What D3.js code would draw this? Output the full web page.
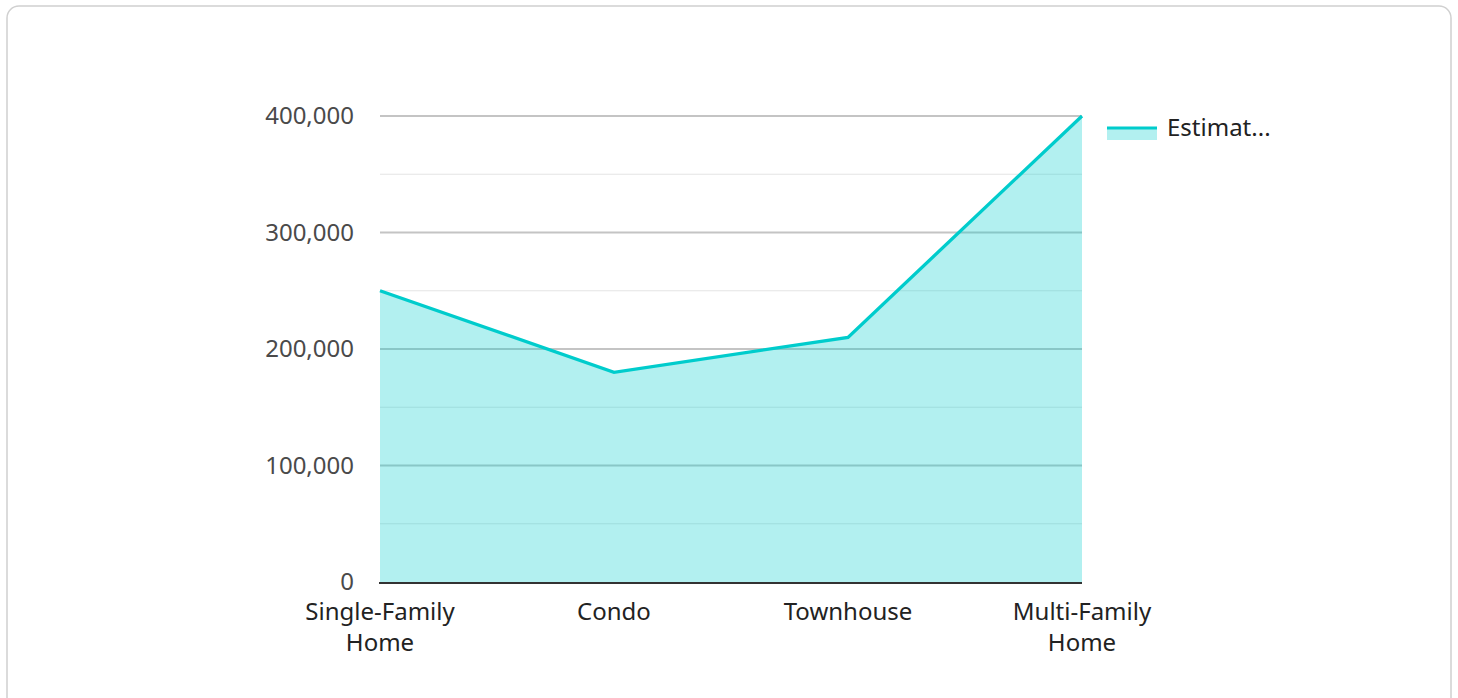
<!DOCTYPE html>
<html>
<head>
<meta charset="utf-8">
<script src="https://cdn.jsdelivr.net/npm/d3@7"></script>
<style>
  html, body { margin: 0; padding: 0; background: #fff; }
  #idMyCanvas { width: 1458px; height: 698px; }
</style>
</head>
<body>
<div id="idMyCanvas"></div>
<script>
let categories = [["Single-Family", "Home"], ["Condo"], ["Townhouse"], ["Multi-Family", "Home"]];
let series_name = "Estimated Value";
let series_values = [250000, 180000, 210000, 400000];
let y_ticks = [0, 100000, 200000, 300000, 400000];
let y_minor = [50000, 150000, 250000, 350000];

let canvas_xn = 1458;
let canvas_yn = 698;

let svg_obj = d3.select("#idMyCanvas")
                .append("svg")
                  .attr("width", canvas_xn)
                  .attr("height", canvas_yn)
                  .attr("xmlns", "http://www.w3.org/2000/svg");

let font_family = "'Noto Sans', 'Open Sans', sans-serif";
let font_size = 24; // px
let line_color = "#00cccc";
let fill_color = "rgba(0, 204, 204, 0.30)";

// Card
// -------------------
svg_obj.append("rect")
   .attr("x", 7).attr("y", 6)
   .attr("width", 1444).attr("height", 720)
   .attr("rx", 12).attr("ry", 12)
   .attr("fill", "#fff")
   .attr("stroke", "#d0d0d0")
   .attr("stroke-width", 1.5);
// -------------------

// Scales
// -------------------
let plot_x0 = 380, plot_x1 = 1082;
let plot_y0 = 116, plot_y1 = 582;

let x_scale = d3.scalePoint()
   .domain(d3.range(categories.length))
   .range([plot_x0, plot_x1]);

let y_scale = d3.scaleLinear()
   .domain([0, 400000])
   .range([plot_y1, plot_y0]);
// -------------------

// Gridlines
// -------------------
svg_obj.append("g").selectAll("line.minor")
   .data(y_minor).join("line")
   .attr("x1", plot_x0).attr("x2", plot_x1)
   .attr("y1", d => y_scale(d)).attr("y2", d => y_scale(d))
   .attr("stroke", "#e4e4e4").attr("stroke-width", 1.2);

svg_obj.append("g").selectAll("line.major")
   .data(y_ticks.filter(d => d > 0)).join("line")
   .attr("x1", plot_x0).attr("x2", plot_x1)
   .attr("y1", d => y_scale(d)).attr("y2", d => y_scale(d))
   .attr("stroke", "#c4c4c4").attr("stroke-width", 1.8);
// -------------------

// Area + line
// -------------------
let area_gen = d3.area()
   .x((d, i) => x_scale(i))
   .y0(y_scale(0))
   .y1(d => y_scale(d));

let line_gen = d3.line()
   .x((d, i) => x_scale(i))
   .y(d => y_scale(d));

svg_obj.append("path")
   .attr("d", area_gen(series_values))
   .attr("fill", fill_color);

svg_obj.append("path")
   .attr("d", line_gen(series_values))
   .attr("fill", "none")
   .attr("stroke", line_color)
   .attr("stroke-width", 3.3);
// -------------------

// Axes
// -------------------
let y_axis = d3.axisLeft(y_scale)
   .tickValues(y_ticks)
   .tickSize(0)
   .tickPadding(26)
   .tickFormat(d3.format(","));

let y_axis_obj = svg_obj.append("g")
   .attr("transform", `translate(${plot_x0},0)`)
   .call(y_axis);
y_axis_obj.select(".domain").remove();
y_axis_obj.selectAll("text")
   .attr("font-family", font_family)
   .attr("font-size", font_size)
   .attr("fill", "#4a4a4a");

svg_obj.append("line")
   .attr("x1", plot_x0 - 1).attr("x2", plot_x1)
   .attr("y1", plot_y1 + 1).attr("y2", plot_y1 + 1)
   .attr("stroke", "#333").attr("stroke-width", 2);

let x_labels = svg_obj.append("g").selectAll("text")
   .data(categories).join("text")
   .attr("x", (d, i) => x_scale(i))
   .attr("y", 620)
   .attr("text-anchor", "middle")
   .attr("font-family", font_family)
   .attr("font-size", font_size)
   .attr("fill", "#222");

x_labels.selectAll("tspan")
   .data(d => d).join("tspan")
   .attr("x", function () { return d3.select(this.parentNode).attr("x"); })
   .attr("dy", (d, i) => i === 0 ? 0 : 31)
   .text(d => d);
// -------------------

// Legend
// -------------------
let legend_obj = svg_obj.append("g").attr("transform", "translate(1107,128)");
legend_obj.append("rect")
   .attr("x", 0).attr("y", 0)
   .attr("width", 50).attr("height", 12)
   .attr("fill", fill_color);
legend_obj.append("line")
   .attr("x1", 0).attr("x2", 50)
   .attr("y1", 0).attr("y2", 0)
   .attr("stroke", line_color).attr("stroke-width", 3);
legend_obj.append("text")
   .attr("x", 60).attr("y", 8)
   .attr("font-family", font_family)
   .attr("font-size", font_size)
   .attr("fill", "#222")
   .text(series_name.slice(0, 7) + "...");
// -------------------
</script>
</body>
</html>
